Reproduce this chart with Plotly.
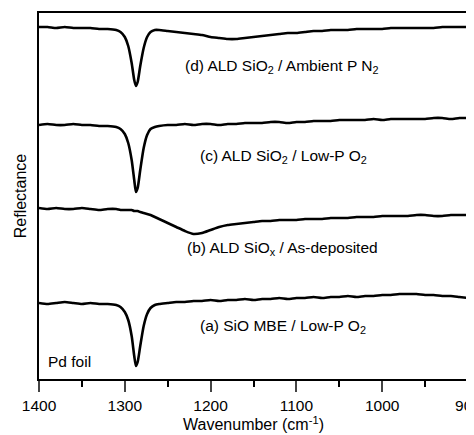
import plotly.graph_objects as go

# wavenumber grid (cm-1)
wavenumber = [1400, 1390, 1380, 1370, 1360, 1350, 1340, 1330, 1320,
              1310, 1305, 1300, 1296, 1292, 1289, 1287, 1285, 1282, 1278, 1274, 1270, 1265, 1260,
              1250, 1240, 1230, 1220, 1210, 1200, 1190, 1180, 1170, 1160, 1150, 1140, 1130, 1120,
              1110, 1100, 1090, 1080, 1070, 1060, 1050, 1040, 1030, 1020, 1010, 1000, 990, 980,
              970, 960, 950, 940, 930, 920, 910, 900]

# offset reflectance traces (arbitrary units, larger = lower on chart)
spec_a = [295, 296, 295, 294, 295, 296, 295, 296, 296,
          297, 299, 304, 312, 328, 348, 358, 354, 338, 318, 306, 300, 297, 296,
          295, 294, 294, 293, 293, 292, 293, 292, 292, 291, 292, 291, 291, 290,
          291, 290, 290, 289, 290, 289, 289, 288, 289, 288, 288, 287, 287, 286,
          286, 286, 287, 287, 288, 288, 289, 290]
spec_b = [200, 201, 200, 201, 201, 200, 201, 202, 201,
          201, 202, 202, 202, 202, 203, 203, 203, 204, 205, 206, 207, 209, 211,
          215, 219, 223, 226, 225, 222, 219, 217, 216, 215, 214, 213, 213, 212,
          212, 212, 211, 211, 211, 210, 210, 210, 209, 209, 209, 208, 208, 208,
          208, 207, 207, 208, 208, 207, 207, 207]
spec_c = [117, 116, 117, 117, 116, 117, 117, 118, 118,
          119, 121, 126, 135, 152, 172, 184, 180, 162, 140, 127, 121, 119, 118,
          117, 117, 116, 117, 116, 116, 117, 116, 116, 115, 115, 115, 114, 114,
          115, 114, 114, 113, 113, 113, 112, 112, 112, 112, 111, 112, 111, 111,
          111, 111, 111, 110, 110, 111, 110, 110]
spec_d = [19, 19, 20, 19, 20, 20, 20, 21, 21,
          22, 24, 29, 38, 55, 72, 78, 74, 58, 40, 29, 24, 22, 22,
          23, 24, 25, 26, 27, 29, 30, 31, 31, 30, 29, 28, 27, 26,
          25, 25, 24, 23, 23, 22, 22, 22, 21, 21, 21, 21, 20, 20,
          20, 20, 20, 20, 19, 19, 19, 19]

labels = ["(a) SiO MBE / Low-P O<sub>2</sub>",
          "(b) ALD SiO<sub>x</sub> / As-deposited",
          "(c) ALD SiO<sub>2</sub> / Low-P O<sub>2</sub>",
          "(d) ALD SiO<sub>2</sub> / Ambient P N<sub>2</sub>"]
label_x = [1215, 1230, 1215, 1232]
label_y = [318, 240, 148, 58]

fig = go.Figure()
for s in [spec_a, spec_b, spec_c, spec_d]:
    fig.add_trace(go.Scatter(x=wavenumber, y=[-v for v in s], mode='lines',
                             line=dict(color='black', width=2.6, shape='spline', smoothing=0.6),
                             showlegend=False))

for t, lx, ly in zip(labels, label_x, label_y):
    fig.add_annotation(x=lx, y=-ly, text=t, showarrow=False, xanchor='left',
                       font=dict(size=15.5, color='black'))
fig.add_annotation(x=1392, y=-353, text="Pd foil", showarrow=False, xanchor='left',
                   font=dict(size=15.5, color='black'))

fig.update_layout(
    width=474, height=435,
    margin=dict(l=31, r=14, t=5, b=64),
    plot_bgcolor='white', paper_bgcolor='white',
    font=dict(family='Liberation Sans, Arial', color='black'),
    xaxis=dict(range=[1400, 900], tickvals=[1400, 1300, 1200, 1100, 1000, 900],
               automargin=False,
               ticks='outside', ticklen=11, tickwidth=2, showgrid=False, zeroline=False,
               showline=True, linewidth=2, linecolor='black', mirror=True,
               tickfont=dict(size=15.5),
               minor=dict(tickvals=[1350, 1250, 1150, 1050, 950], ticks='outside',
                          ticklen=6, tickwidth=2, tickcolor='black'),
               title=dict(text="Wavenumber (cm<sup>-1</sup>)", font=dict(size=16), standoff=2)),
    yaxis=dict(range=[-371, -5], showticklabels=False, ticks='', showgrid=False,
               automargin=False,
               zeroline=False, showline=True, linewidth=2, linecolor='black', mirror=True,
               title=dict(text="Reflectance", font=dict(size=16), standoff=6)),
)

fig.write_html("out.html")
